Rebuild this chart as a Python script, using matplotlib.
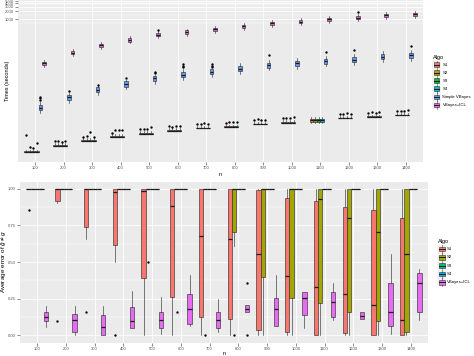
import matplotlib
matplotlib.use("Agg")
import matplotlib.pyplot as plt
from matplotlib.patches import Rectangle

plt.rcParams["font.family"] = ["Liberation Sans", "DejaVu Sans"]
plt.rcParams["mathtext.fontset"] = "custom"
plt.rcParams["mathtext.rm"] = "Liberation Sans"
plt.rcParams["mathtext.it"] = "Liberation Sans:italic"

# ---------------- data ----------------
n_values = [100, 200, 300, 400, 500, 600, 700, 800, 900, 1000, 1100, 1200, 1300, 1400]
n_labels = [str(v) for v in n_values]

# Top panel: times (seconds)
top_algos = ["S1", "S2", "S3", "S4", "Simple VBayes", "VBayes+ICL"]
top_colors = ["#F8766D", "#B79F00", "#00BA38", "#00BFC4", "#619CFF", "#F564E3"]

s_med = [0.0092, 0.0158, 0.0244, 0.0345, 0.046, 0.058, 0.073, 0.082, 0.1035, 0.12, 0.146, 0.174, 0.195, 0.225]
s_q1 = [0.0092, 0.0158, 0.0244, 0.0345, 0.046, 0.058, 0.073, 0.082, 0.1035, 0.12, 0.128, 0.174, 0.195, 0.225]
s_q3 = [0.0099, 0.0171, 0.0264, 0.0373, 0.0497, 0.0626, 0.0788, 0.0886, 0.1118, 0.1296, 0.168, 0.1879, 0.2106, 0.243]
s_whislo = [0.0092, 0.0158, 0.0244, 0.0345, 0.046, 0.058, 0.073, 0.082, 0.1035, 0.12, 0.118, 0.174, 0.195, 0.225]
s_whishi = [0.0115, 0.0198, 0.0305, 0.0431, 0.0575, 0.0725, 0.0913, 0.1025, 0.1294, 0.15, 0.19, 0.2175, 0.2438, 0.2813]
s1_fliers = [0.04, 0.024, 0.036, 0.05, 0.068, 0.088, 0.11, 0.12, 0.15, 0.18, None, 0.26, 0.29, 0.33]
s2_fliers = [0.014, 0.024, 0.037, 0.064, 0.069, 0.085, 0.11, 0.125, 0.16, 0.18, None, 0.26, 0.3, 0.34]
s3_fliers = [0.013, 0.023, 0.053, 0.064, 0.07, 0.088, 0.115, 0.123, 0.155, 0.18, None, 0.28, 0.29, 0.33]
s4_fliers = [0.021, 0.024, 0.035, 0.064, 0.082, 0.087, 0.11, 0.125, 0.15, 0.19, None, 0.26, 0.3, 0.35]

sv_med = [0.45, 1.1, 2.1, 3.5, 5.7, 7.9, 10.2, 13.2, 18.2, 21, 25.7, 29.5, 38.3, 43]
sv_q1 = [0.36, 0.88, 1.7, 2.8, 4.6, 6.3, 8.2, 10.6, 14.6, 16.8, 20.6, 23.6, 30.6, 34.4]
sv_q3 = [0.56, 1.4, 2.6, 4.4, 7.1, 9.9, 12.8, 16.5, 22.8, 26.3, 32.1, 36.9, 47.9, 53.8]
sv_whislo = [0.28, 0.69, 1.3, 2.2, 3.6, 4.9, 6.4, 8.3, 11.4, 13.1, 16.1, 18.4, 23.9, 26.9]
sv_whishi = [0.72, 1.6, 2.9, 5.0, 8.0, 12.6, 13.5, 21.1, 29.1, 33.6, 41.1, 47.2, 61.3, 68.8]
sv_fliers = [[0.85, 1.0, 1.15], [1.9], [3.2], [5.9], [8.8, 10.0], [14.8, 17.0, 20.0],
             [14.8, 17.0, 19.8], [], [44.0], [], [57.0], [66.0], [], [97.0]]

icl_med = [21, 54, 103, 163, 261, 324, 410, 532, 689, 794, 977, 1119, 1413, 1541]
icl_q1 = [18.3, 47, 90, 142, 227, 282, 357, 463, 599, 690, 850, 973, 1229, 1340]
icl_q3 = [24.2, 62, 118, 187, 300, 373, 472, 612, 792, 913, 1124, 1287, 1625, 1772]
icl_whislo = [15.6, 40, 76, 121, 193, 240, 304, 394, 510, 588, 724, 829, 1047, 1141]
icl_whishi = [28.4, 73, 139, 220, 352, 437, 554, 718, 930, 1072, 1319, 1511, 1908, 2080]
icl_fliers = [[], [], [], [], [400], [], [], [], [], [], [], [1900], [], []]

time_ticks = [1000, 2000, 3000, 4000, 5000]

# Bottom panel: average error
bot_algos = ["S1", "S2", "S3", "S4", "VBayes+ICL"]
bot_colors = ["#F8766D", "#A3A500", "#00BF7D", "#00B0F6", "#E76BF3"]

e1_med = [1.0, 1.0, 1.0, 0.977, 0.983, 0.884, 0.68, 0.656, 0.556, 0.407, 0.332, 0.282, 0.207, 0.105]
e1_q1 = [1.0, 0.92, 0.742, 0.617, 0.39, 0.264, 0.127, 0.111, 0.036, 0.02, 0.0, 0.014, 0.0, 0.0]
e1_q3 = [1.0, 1.0, 1.0, 1.0, 1.0, 1.0, 1.0, 1.0, 0.99, 0.94, 0.918, 0.879, 0.856, 0.804]
e1_whislo = [1.0, 0.90, 0.656, 0.503, 0.0, 0.0, 0.0, 0.0, 0.0, 0.0, 0.0, 0.0, 0.0, 0.0]
e1_whishi = [1.0, 1.0, 1.0, 1.0, 1.0, 1.0, 1.0, 1.0, 1.0, 1.0, 1.0, 1.0, 1.0, 1.0]
e1_fliers = [[0.856], [0.10], [0.157], [0.0], [], [], [], [], [], [], [], [], [], []]

e2_med = [1.0, 1.0, 1.0, 1.0, 1.0, 1.0, 1.0, 1.0, 1.0, 1.0, 0.932, 0.804, 0.704, 0.556]
e2_q1 = [1.0, 1.0, 1.0, 1.0, 1.0, 1.0, 1.0, 0.704, 0.40, 0.253, 0.219, 0.157, 0.10, 0.025]
e2_q3 = [1.0, 1.0, 1.0, 1.0, 1.0, 1.0, 1.0, 1.0, 1.0, 1.0, 1.0, 1.0, 1.0, 1.0]
e2_whislo = [1.0, 1.0, 1.0, 1.0, 1.0, 1.0, 1.0, 0.606, 0.0, 0.0, 0.0, 0.0, 0.0, 0.0]
e2_whishi = [1.0, 1.0, 1.0, 1.0, 1.0, 1.0, 1.0, 1.0, 1.0, 1.0, 1.0, 1.0, 1.0, 1.0]
e2_fliers = [[], [], [], [], [0.503], [0.157], [0.0], [0.0], [], [], [], [], [], []]

e3_value = [1.0, 1.0, 1.0, 1.0, 1.0, 1.0, 1.0, 1.0, 1.0, 1.0, 1.0, 1.0, 1.0, 1.0]
e4_value = [1.0, 1.0, 1.0, 1.0, 1.0, 1.0, 1.0, 1.0, 1.0, 1.0, 1.0, 1.0, 1.0, 1.0]

e5_med = [0.127, 0.105, 0.055, 0.10, 0.105, 0.178, 0.105, 0.18, 0.178, 0.255, 0.23, 0.134, 0.157, 0.355]
e5_q1 = [0.10, 0.025, 0.0, 0.05, 0.052, 0.077, 0.052, 0.161, 0.064, 0.139, 0.127, 0.111, 0.064, 0.161]
e5_q3 = [0.157, 0.144, 0.14, 0.19, 0.157, 0.282, 0.155, 0.207, 0.253, 0.294, 0.294, 0.157, 0.355, 0.428]
e5_whislo = [0.055, 0.0, 0.0, 0.05, 0.007, 0.06, 0.02, 0.161, 0.06, 0.052, 0.105, 0.111, 0.007, 0.105]
e5_whishi = [0.2, 0.2, 0.2, 0.305, 0.26, 0.412, 0.25, 0.207, 0.41, 0.294, 0.355, 0.157, 0.553, 0.45]
e5_fliers = [[], [], [], [], [], [], [], [0.355, 0.0], [], [], [], [], [], []]

err_ticks = [0.0, 0.25, 0.5, 0.75, 1.0]
err_labels = ["0.00", "0.25", "0.50", "0.75", "1.00"]


def make_stats(med, q1, q3, lo, hi, fl):
    out = []
    for i in range(len(med)):
        f = fl[i]
        if f is None:
            f = []
        elif not isinstance(f, list):
            f = [f]
        out.append(dict(med=med[i], q1=q1[i], q3=q3[i], whislo=lo[i], whishi=hi[i], fliers=f))
    return out


EDGE = "#333333"


def draw_group(ax, stats, offset, width, color):
    pos = [i + offset for i in range(len(stats))]
    ax.bxp(stats, positions=pos, widths=width, patch_artist=True, showcaps=False,
           manage_ticks=False,
           boxprops=dict(facecolor=color, edgecolor=EDGE, linewidth=0.45),
           medianprops=dict(color="#1a1a1a", linewidth=0.9),
           whiskerprops=dict(color=EDGE, linewidth=0.45),
           flierprops=dict(marker="o", markersize=1.7, markerfacecolor="black",
                           markeredgecolor="none"))


def style_axes(ax):
    ax.set_facecolor("#EBEBEB")
    for s in ax.spines.values():
        s.set_visible(False)
    ax.tick_params(axis="both", which="major", length=2, width=0.4, color=EDGE,
                   labelsize=3, labelcolor="#4D4D4D", pad=1)
    ax.tick_params(axis="both", which="minor", length=0)
    ax.grid(which="major", color="white", linewidth=0.6)
    ax.grid(which="minor", axis="y", color="white", linewidth=0.3)
    ax.set_axisbelow(True)


fig = plt.figure(figsize=(4.74, 3.56), dpi=100)

# ---------------- top panel ----------------
ax1 = fig.add_axes([18 / 474, (356 - 162) / 356, (423 - 18) / 474, 162 / 356])
style_axes(ax1)
ax1.set_yscale("log")
top_stats = [
    make_stats(s_med, s_q1, s_q3, s_whislo, s_whishi, s1_fliers),
    make_stats(s_med, s_q1, s_q3, s_whislo, s_whishi, s2_fliers),
    make_stats(s_med, s_q1, s_q3, s_whislo, s_whishi, s3_fliers),
    make_stats(s_med, s_q1, s_q3, s_whislo, s_whishi, s4_fliers),
    make_stats(sv_med, sv_q1, sv_q3, sv_whislo, sv_whishi, sv_fliers),
    make_stats(icl_med, icl_q1, icl_q3, icl_whislo, icl_whishi, icl_fliers),
]
k = len(top_algos)
bw = 0.75 / k
for j in range(k):
    off = -0.375 + bw * (j + 0.5)
    draw_group(ax1, top_stats[j], off, bw, top_colors[j])
ax1.set_xlim(-0.6, len(n_values) - 0.4)
ax1.set_ylim(0.0039, 5300)
ax1.set_xticks(range(len(n_values)))
ax1.set_xticklabels(n_labels)
ax1.set_yticks(time_ticks)
ax1.set_yticklabels([str(t) for t in time_ticks])
ax1.set_yticks([707, 1414, 2449, 3464, 4472], minor=True)
ax1.yaxis.set_minor_formatter(matplotlib.ticker.NullFormatter())
ax1.set_xlabel("n", fontsize=4, labelpad=1.5)
ax1.set_ylabel("Times (seconds)", fontsize=4)
ax1.yaxis.set_label_coords(-0.02, 0.5)

# ---------------- bottom panel ----------------
ax2 = fig.add_axes([20 / 474, (356 - 342.5) / 356, (428 - 20) / 474, (342.5 - 181.5) / 356])
style_axes(ax2)
bot_stats = [
    make_stats(e1_med, e1_q1, e1_q3, e1_whislo, e1_whishi, e1_fliers),
    make_stats(e2_med, e2_q1, e2_q3, e2_whislo, e2_whishi, e2_fliers),
    make_stats(e3_value, e3_value, e3_value, e3_value, e3_value, [[]] * len(n_values)),
    make_stats(e4_value, e4_value, e4_value, e4_value, e4_value, [[]] * len(n_values)),
    make_stats(e5_med, e5_q1, e5_q3, e5_whislo, e5_whishi, e5_fliers),
]
k2 = len(bot_algos)
bw2 = 0.75 / k2
for j in range(k2):
    off = -0.375 + bw2 * (j + 0.5)
    draw_group(ax2, bot_stats[j], off, bw2, bot_colors[j])
ax2.set_xlim(-0.6, len(n_values) - 0.4)
ax2.set_ylim(-0.05, 1.05)
ax2.set_xticks(range(len(n_values)))
ax2.set_xticklabels(n_labels)
ax2.set_yticks(err_ticks)
ax2.set_yticklabels(err_labels)
ax2.set_yticks([0.125, 0.375, 0.625, 0.875], minor=True)
ax2.set_xlabel("n", fontsize=4, labelpad=0.5)
ax2.set_ylabel(r"Average error of $\hat{g} \neq g$", fontsize=4.6)
ax2.yaxis.set_label_coords(-0.026, 0.5)

# ---------------- legends (drawn in pixel coordinates) ----------------
lax = fig.add_axes([0, 0, 1, 1])
lax.set_xlim(0, 474)
lax.set_ylim(356, 0)
lax.axis("off")


def draw_legend(x0, title_y, first_y, step, labels, colors, text_x):
    lax.text(x0, title_y, "Algo", fontsize=4, va="center", ha="left", color="black")
    for i, (lab, col) in enumerate(zip(labels, colors)):
        yc = first_y + i * step
        lax.add_patch(Rectangle((x0, yc - step / 2), step, step, facecolor="#F2F2F2",
                                edgecolor="none"))
        lax.add_patch(Rectangle((x0 + 1.2, yc - 2.4), step - 2.4, 4.8, facecolor=col,
                                edgecolor=EDGE, linewidth=0.4))
        lax.plot([x0 + 1.2, x0 + step - 1.2], [yc, yc], color="#1a1a1a", lw=0.7)
        lax.plot([x0 + step / 2] * 2, [yc - 2.4, yc - step / 2 + 0.3], color=EDGE, lw=0.4)
        lax.plot([x0 + step / 2] * 2, [yc + 2.4, yc + step / 2 - 0.3], color=EDGE, lw=0.4)
        lax.text(text_x, yc, lab, fontsize=3.1, va="center", ha="left", color="black")


draw_legend(432.5, 57, 64.5, 8.1, top_algos, top_colors, 442.5)
draw_legend(437.5, 241, 249, 8.3, bot_algos, bot_colors, 447)

fig.savefig("out.png", dpi=100)
